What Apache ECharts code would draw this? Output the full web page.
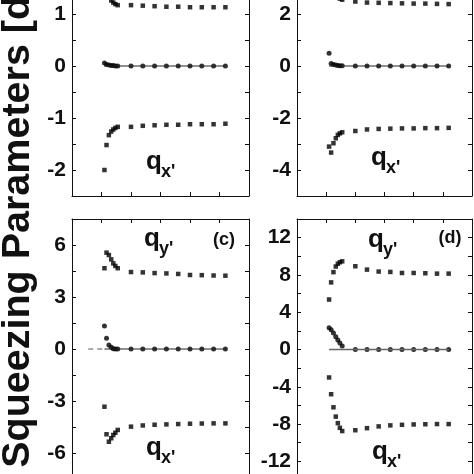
<!DOCTYPE html>
<html>
<head>
<meta charset="utf-8">
<script src="https://cdn.jsdelivr.net/npm/echarts@6.0.0/dist/echarts.min.js"></script>
<style>
    html, body { margin: 0; padding: 0; background: #fff; overflow: hidden; width: 474px; height: 474px; }
    /* the reference is a crop: the top panels continue above the window */
    #chart { position: absolute; left: 0; top: -64px; width: 474px; height: 560px; }
</style>
</head>
<body>
<div id="chart"></div>
<script>
(function () {
    'use strict';

    /* ------------------------------------------------------------------ */
    /*  Data                                           */
    /* ------------------------------------------------------------------ */

    // shared abscissa of all series
    var X = [0.1, 0.17, 0.25, 0.33, 0.4, 0.47, 0.55, 1.0, 1.4, 1.8, 2.2, 2.6, 3.0, 3.4, 3.8, 4.2];

    // (a)
    var A_QY = [2.0, 1.52, 1.33, 1.26, 1.22, 1.19, 1.17, 1.17, 1.16, 1.15, 1.14, 1.14, 1.13, 1.13, 1.13, 1.13];
    var A_QX = [-2.0, -1.52, -1.33, -1.26, -1.22, -1.19, -1.17, -1.17, -1.15, -1.14, -1.13, -1.13, -1.12, -1.12, -1.12, -1.11];
    var A_C = [0.06, 0.03, 0.02, 0.01, 0.01, 0, 0, 0, 0, 0, 0, 0, 0, 0, 0, 0];

    // (b)
    var B_QY = [3.1, 3.33, 2.97, 2.78, 2.65, 2.59, 2.55, 2.48, 2.44, 2.43, 2.42, 2.41, 2.4, 2.4, 2.39, 2.38];
    var B_QX = [-3.1, -3.33, -2.97, -2.78, -2.65, -2.59, -2.55, -2.5, -2.44, -2.42, -2.41, -2.4, -2.4, -2.39, -2.39, -2.38];
    var B_C = [0.49, 0.1, 0.06, 0.04, 0.02, 0.01, 0.01, 0, 0, 0, 0, 0, 0, 0, 0, 0];

    // (c)
    var C_QY = [4.66, 5.56, 5.42, 5.17, 4.94, 4.79, 4.66, 4.44, 4.42, 4.38, 4.36, 4.33, 4.27, 4.26, 4.24, 4.23];
    var C_QX = [-3.33, -4.92, -5.35, -5.15, -4.96, -4.83, -4.67, -4.48, -4.41, -4.37, -4.35, -4.33, -4.31, -4.3, -4.29, -4.29];
    var C_C = [1.33, 0.62, 0.23, 0.1, 0.02, 0, 0, 0, 0, 0, 0, 0, 0, 0, 0, 0];

    // (d)
    var D_QY = [5.36, 7.2, 8.3, 8.9, 9.2, 9.36, 9.46, 8.93, 8.57, 8.36, 8.32, 8.21, 8.21, 8.18, 8.14, 8.14];
    var D_QX = [-3.0, -4.8, -6.2, -7.2, -7.9, -8.4, -8.75, -8.66, -8.44, -8.25, -8.14, -8.08, -8.04, -8.02, -8.0, -8.0];
    var D_C = [2.32, 2.12, 1.77, 1.36, 1.03, 0.7, 0.38, 0, 0, 0, 0, 0, 0, 0, 0, 0];

    // y = 0 guide lines
    var ZERO_X = [0.1, 4.2];
    var ZERO_DASH_X = [-0.45, 0.1];

    // axis ranges: min, max, tick step, label step
    var Y_MIN = [-2.5, -5, -7.5, -14];
    var Y_MAX = [2.5, 5, 7.5, 14];
    var Y_STEP = [0.5, 1, 1.5, 2];
    var Y_LABEL_STEP = [1, 2, 3, 4];
    var X_MIN = -1, X_MAX = 5, X_STEP = 1;

    var TITLE = 'Squeezing Parameters [dB]';

    /* ------------------------------------------------------------------ */
    /*  Layout                                                             */
    /* ------------------------------------------------------------------ */

    var SHIFT = 64;   // container starts 64px above the window
    var INK = '#111';
    var FONT = '"Liberation Sans", Arial, Helvetica, sans-serif';

    var GRIDS = [
        { left: 72, top: 0, width: 177, height: 260 },
        { left: 297, top: 0, width: 175, height: 260 },
        { left: 72, top: 283, width: 177, height: 260 },
        { left: 297, top: 283, width: 175, height: 261 }
    ];

    var PANELS = [
        { qy: A_QY, qx: A_QX, c: A_C },
        { qy: B_QY, qx: B_QX, c: B_C },
        { qy: C_QY, qx: C_QX, c: C_C },
        { qy: D_QY, qx: D_QX, c: D_C }
    ];

    function pts(ys) {
        return X.map(function (x, i) { return [x, ys[i]]; });
    }

    function zeroLine(xs) {
        return xs.map(function (x) { return [x, 0]; });
    }

    function xAxis(i, pos) {
        return {
            gridIndex: i, type: 'value', position: pos,
            min: X_MIN, max: X_MAX, interval: X_STEP,
            axisLine: { show: true, onZero: false, lineStyle: { color: INK, width: 1 } },
            axisTick: { show: true, inside: true, length: 4, lineStyle: { color: INK } },
            axisLabel: { show: false },
            splitLine: { show: false }
        };
    }

    function yAxis(i, pos) {
        var labelStep = Y_LABEL_STEP[i];
        return {
            gridIndex: i, type: 'value', position: pos,
            min: Y_MIN[i], max: Y_MAX[i], interval: Y_STEP[i],
            axisLine: { show: true, onZero: false, lineStyle: { color: INK, width: 1 } },
            axisTick: { show: true, inside: true, length: 4, lineStyle: { color: INK } },
            axisLabel: {
                show: pos === 'left',
                margin: 6,
                color: INK,
                fontSize: 21,
                fontWeight: 'bold',
                fontFamily: FONT,
                formatter: function (v) {
                    return Math.abs(v % labelStep) < 1e-9 ? String(v) : '';
                }
            },
            splitLine: { show: false }
        };
    }

    var xAxes = [], yAxes = [], series = [];

    PANELS.forEach(function (p, i) {
        xAxes.push(xAxis(i, 'bottom'), xAxis(i, 'top'));
        yAxes.push(yAxis(i, 'left'), yAxis(i, 'right'));
        var xi = i * 2, yi = i * 2;

        if (i === 2) {
            series.push({
                type: 'line', xAxisIndex: xi, yAxisIndex: yi, showSymbol: false, silent: true,
                data: zeroLine(ZERO_DASH_X),
                lineStyle: { color: '#555', width: 1, type: [5, 4] }
            });
        }
        series.push({
            type: 'line', xAxisIndex: xi, yAxisIndex: yi, showSymbol: false, silent: true,
            data: zeroLine(ZERO_X),
            lineStyle: i === 3 ? { color: '#666', width: 1.6 } : { color: '#222', width: 1 }
        });
        series.push({
            type: 'scatter', xAxisIndex: xi, yAxisIndex: yi, symbol: 'circle', symbolSize: 5,
            data: pts(p.c), itemStyle: { color: '#000' }
        });
        series.push({
            type: 'scatter', xAxisIndex: xi, yAxisIndex: yi, symbol: 'rect', symbolSize: 4.5,
            data: pts(p.qy), itemStyle: { color: '#000' }
        });
        series.push({
            type: 'scatter', xAxisIndex: xi, yAxisIndex: yi, symbol: 'rect', symbolSize: 4.5,
            data: pts(p.qx), itemStyle: { color: '#000' }
        });
    });

    /* ------------------------------------------------------------------ */
    /*  Text annotations (image coordinates, shifted into the container)   */
    /* ------------------------------------------------------------------ */

    // y is the vertical centre of the q glyph body
    function qLabel(x, y, sub) {
        return [{
            type: 'text', x: x, y: y + SHIFT,
            style: { text: 'q', font: 'bold 26px ' + FONT, fill: INK, align: 'left', verticalAlign: 'middle' }
        }, {
            type: 'text', x: x + 15, y: y + 10 + SHIFT,
            style: { text: sub, font: 'bold 18px ' + FONT, fill: INK, align: 'left', verticalAlign: 'middle' }
        }];
    }

    function tag(x, y, text) {
        return {
            type: 'text', x: x, y: y + SHIFT,
            style: { text: text, font: 'bold 18px ' + FONT, fill: INK, align: 'center', verticalAlign: 'middle' }
        };
    }

    var graphics = [].concat(
        qLabel(146, 162, "x'"),
        qLabel(371, 158, "x'"),
        qLabel(144, 239, "y'"),
        qLabel(146, 448, "x'"),
        qLabel(368, 240, "y'"),
        qLabel(372, 452, "x'"),
        [tag(224, 240, '(c)'), tag(450, 238, '(d)')],
        [{
            type: 'text', x: 18, y: 211 + SHIFT, rotation: Math.PI / 2,
            style: { text: TITLE, font: 'bold 39.5px ' + FONT, fill: INK, align: 'center', verticalAlign: 'middle' }
        }]
    );

    var chart = echarts.init(document.getElementById('chart'));
    chart.setOption({
        animation: false,
        backgroundColor: '#fff',
        grid: GRIDS,
        xAxis: xAxes,
        yAxis: yAxes,
        series: series,
        graphic: graphics
    });
})();
</script>
</body>
</html>
